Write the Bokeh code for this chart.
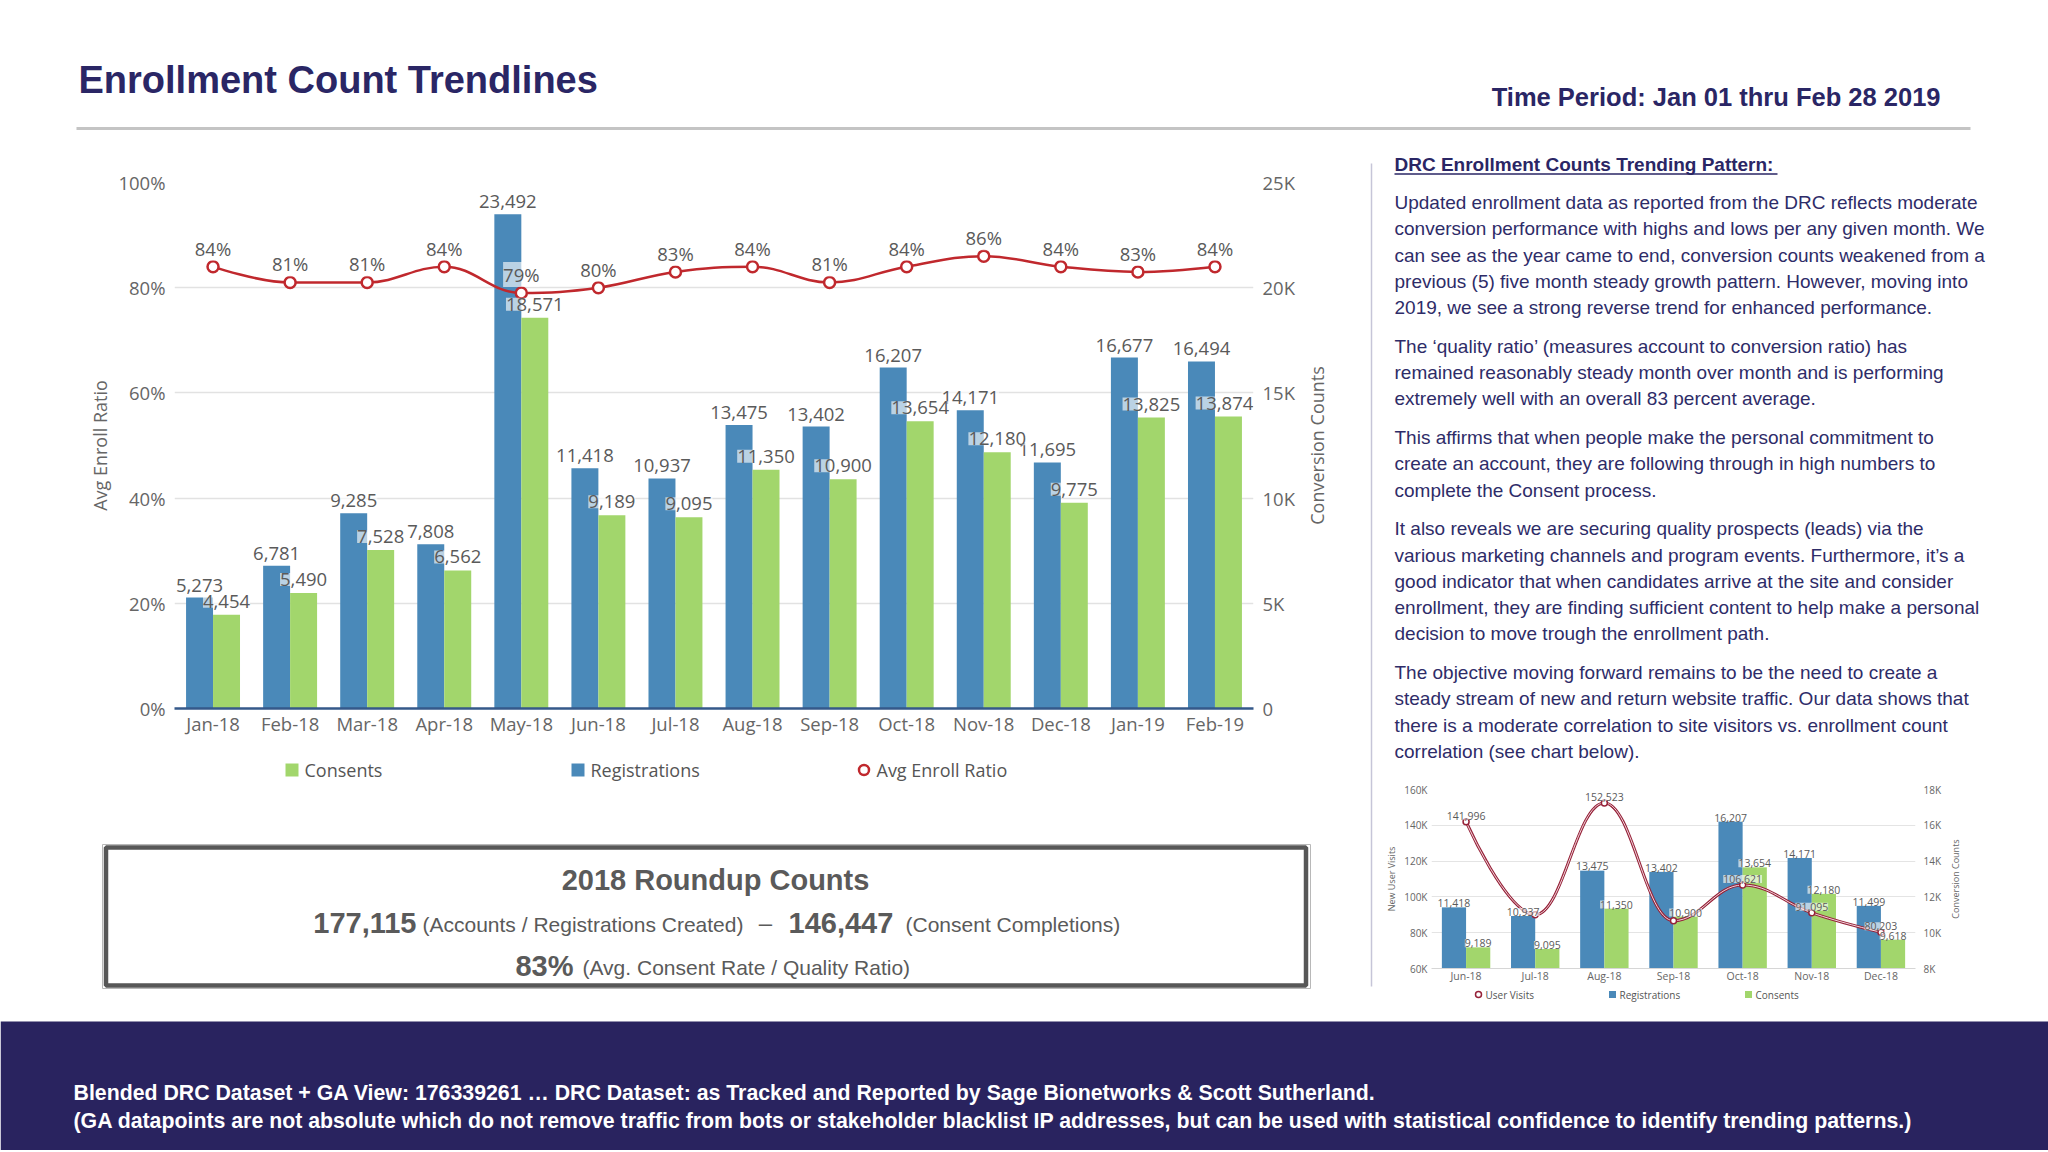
import math
from bokeh.plotting import figure
from bokeh.models import ColumnDataSource, FactorRange, Range1d, LinearAxis, FixedTicker, LabelSet
from bokeh.layouts import row, column
from bokeh.transform import dodge
from bokeh.core.properties import value
from bokeh.embed import file_html
from bokeh.resources import INLINE

# ---------------- data (main chart) ----------------
MONTHS = ["Jan-18", "Feb-18", "Mar-18", "Apr-18", "May-18", "Jun-18", "Jul-18",
          "Aug-18", "Sep-18", "Oct-18", "Nov-18", "Dec-18", "Jan-19", "Feb-19"]
REGISTRATIONS = [5273, 6781, 9285, 7808, 23492, 11418, 10937, 13475, 13402, 16207, 14171, 11695, 16677, 16494]
CONSENTS = [4454, 5490, 7528, 6562, 18571, 9189, 9095, 11350, 10900, 13654, 12180, 9775, 13825, 13874]
AVG_ENROLL_RATIO = [84, 81, 81, 84, 79, 80, 83, 84, 81, 84, 86, 84, 83, 84]
RATIO_TICKS = [0, 20, 40, 60, 80, 100]
RATIO_TICK_LABELS = ["0%", "20%", "40%", "60%", "80%", "100%"]
COUNT_TICKS = [0, 5000, 10000, 15000, 20000, 25000]
COUNT_TICK_LABELS = ["0", "5K", "10K", "15K", "20K", "25K"]

# ---------------- data (small GA chart) ----------------
GA_MONTHS = ["Jun-18", "Jul-18", "Aug-18", "Sep-18", "Oct-18", "Nov-18", "Dec-18"]
GA_USER_VISITS = [141996, 90000, 152523, 86700, 106621, 91095, 80203]
GA_VISIT_LABELS = ["141,996", "", "152,523", "", "106,621", "91,095", "80,203"]
GA_REGISTRATIONS = [11418, 10937, 13475, 13402, 16207, 14171, 11499]
GA_CONSENTS = [9189, 9095, 11350, 10900, 13654, 12180, 9618]
VISIT_TICKS = [60000, 80000, 100000, 120000, 140000, 160000]
VISIT_TICK_LABELS = ["60K", "80K", "100K", "120K", "140K", "160K"]
GA_COUNT_TICKS = [8000, 10000, 12000, 14000, 16000, 18000]
GA_COUNT_TICK_LABELS = ["8K", "10K", "12K", "14K", "16K", "18K"]

# ---------------- texts ----------------
TITLE = "Enrollment Count Trendlines"
PERIOD = "Time Period: Jan 01 thru Feb 28 2019"
SIDE_HEADING = "DRC Enrollment Counts Trending Pattern:"
SIDE_PARAGRAPHS = [
    ["Updated enrollment data as reported from the DRC reflects moderate",
     "conversion performance with highs and lows per any given month. We",
     "can see as the year came to end, conversion counts weakened from a",
     "previous (5) five month steady growth pattern. However, moving into",
     "2019, we see a strong reverse trend for enhanced performance."],
    ["The \u2018quality ratio\u2019 (measures account to conversion ratio) has",
     "remained reasonably steady month over month and is performing",
     "extremely well with an overall 83 percent average."],
    ["This affirms that when people make the personal commitment to",
     "create an account, they are following through in high numbers to",
     "complete the Consent process."],
    ["It also reveals we are securing quality prospects (leads) via the",
     "various marketing channels and program events.  Furthermore, it\u2019s a",
     "good indicator that when candidates arrive at the site and consider",
     "enrollment, they are finding sufficient content to help make a personal",
     "decision to move trough the enrollment path."],
    ["The objective moving forward remains to be the need to create a",
     "steady stream of new and return website traffic. Our data shows that",
     "there is a moderate correlation to site visitors vs. enrollment count",
     "correlation (see chart below)."],
]
ROUNDUP_TITLE = "2018 Roundup Counts"
ROUNDUP_ACCOUNTS = "177,115"
ROUNDUP_CONSENTS = "146,447"
ROUNDUP_RATE = "83%"
FOOTER_1 = "Blended DRC Dataset + GA View: 176339261 \u2026  DRC Dataset: as Tracked and Reported by Sage Bionetworks & Scott Sutherland."
FOOTER_2 = "(GA datapoints are not absolute which do not remove traffic from bots or stakeholder blacklist IP addresses, but can be used with statistical confidence to identify trending patterns.)"

# ---------------- styles ----------------
BLUE = "#4a89b9"
GREEN = "#a2d66c"
RED = "#c0282d"
MAROON = "#962239"
NAVY = "#2a2665"
TEXT_NAVY = "#2e2c68"
GRAY_TXT = "#666666"
LBL_TXT = "#5a5a5a"
CHART_FONT = "Open Sans"
PAGE_FONT = "Liberation Sans"


def spline_segments(xs, ys, smoothing=1.5):
    n = len(xs)
    den = smoothing + 1.0
    lc, rc = [], []
    for i in range(n):
        px, py = xs[i], ys[i]
        if 0 < i < n - 1:
            lx, ly = xs[i - 1], ys[i - 1]
            nx, ny = xs[i + 1], ys[i + 1]
            lcx = (smoothing * px + lx) / den
            lcy = (smoothing * py + ly) / den
            rcx = (smoothing * px + nx) / den
            rcy = (smoothing * py + ny) / den
            if rcx != lcx:
                corr = (rcy - lcy) * (rcx - px) / (rcx - lcx) + py - rcy
                lcy += corr
                rcy += corr
            if lcy > ly and lcy > py:
                lcy = max(ly, py); rcy = 2 * py - lcy
            elif lcy < ly and lcy < py:
                lcy = min(ly, py); rcy = 2 * py - lcy
            if rcy > ny and rcy > py:
                rcy = max(ny, py); lcy = 2 * py - rcy
            elif rcy < ny and rcy < py:
                rcy = min(ny, py); lcy = 2 * py - rcy
            lc.append((lcx, lcy)); rc.append((rcx, rcy))
        else:
            lc.append((px, py)); rc.append((px, py))
    seg = dict(x0=[], y0=[], x1=[], y1=[], cx0=[], cy0=[], cx1=[], cy1=[])
    for i in range(1, n):
        seg["x0"].append(xs[i - 1]); seg["y0"].append(ys[i - 1])
        seg["x1"].append(xs[i]); seg["y1"].append(ys[i])
        seg["cx0"].append(rc[i - 1][0]); seg["cy0"].append(rc[i - 1][1])
        seg["cx1"].append(lc[i][0]); seg["cy1"].append(lc[i][1])
    return seg


def canvas(x0, x1, y0, y1, inverted=True, **borders):
    w = x1 - x0 + borders.get("min_border_left", 0) + borders.get("min_border_right", 0)
    h = y1 - y0 + borders.get("min_border_top", 0) + borders.get("min_border_bottom", 0)
    yr = Range1d(y1, y0) if inverted else Range1d(y0, y1)
    kw = dict(min_border=0)
    kw.update(borders)
    p = figure(width=w, height=h, x_range=Range1d(x0, x1), y_range=yr,
               x_axis_type=None, y_axis_type=None, title=None,
               toolbar_location=None, output_backend="svg", **kw)
    p.outline_line_color = None
    p.background_fill_color = "white"
    p.border_fill_color = "white"
    return p


def put_text(p, x, y, txt, size, color, bold=False, align="left", baseline="middle",
             font=PAGE_FONT, angle=0.0):
    p.text(x=[x], y=[y], text=[txt], text_font=value(font), text_font_size=f"{size}px",
           text_font_style="bold" if bold else "normal", text_color=color,
           text_align=align, text_baseline=baseline, angle=angle)


def style_axis(ax, size, label_size=None, standoff=5):
    ax.major_label_text_font = CHART_FONT
    ax.major_label_text_font_size = f"{size}px"
    ax.major_label_text_color = GRAY_TXT
    ax.axis_label_text_font = CHART_FONT
    ax.axis_label_text_font_size = f"{label_size or size}px"
    ax.axis_label_text_font_style = "normal"
    ax.axis_label_text_color = GRAY_TXT
    ax.major_tick_line_color = None
    ax.minor_tick_line_color = None
    ax.major_tick_out = 0
    ax.major_tick_in = 0
    ax.minor_tick_out = 0
    ax.minor_tick_in = 0
    ax.major_label_standoff = standoff


# ================= header =================
header = canvas(0, 2048, 0, 150)
put_text(header, 78, 79, TITLE, 38, NAVY, bold=True)
put_text(header, 1940, 96.5, PERIOD, 25.5, NAVY, bold=True, align="right")
header.segment(x0=[76], y0=[128], x1=[1970], y1=[128], line_color="#c4c4c4", line_width=3)

# ================= main chart =================
n_months = len(MONTHS)
src = ColumnDataSource(dict(
    month=MONTHS, reg=REGISTRATIONS, con=CONSENTS, ratio=AVG_ENROLL_RATIO,
    reg_lbl=[f"{v:,}" for v in REGISTRATIONS],
    con_lbl=[f"{v:,}" for v in CONSENTS],
    ratio_lbl=[f"{v}%" for v in AVG_ENROLL_RATIO],
    # keep the last consent label inside the plot frame (it would be clipped otherwise)
    con_dx=[0] * (n_months - 1) + [-4],
))

main = figure(width=1300, height=600, x_range=FactorRange(factors=MONTHS),
              y_range=Range1d(RATIO_TICKS[0], RATIO_TICKS[-1]), title=None,
              min_border_left=174, min_border_right=47, min_border_top=32, min_border_bottom=42,
              toolbar_location=None, output_backend="svg")
main.extra_y_ranges = {"counts": Range1d(COUNT_TICKS[0], COUNT_TICKS[-1])}
main.outline_line_color = None
main.background_fill_color = "white"
main.border_fill_color = "white"
main.xgrid.visible = False
main.ygrid.ticker = FixedTicker(ticks=RATIO_TICKS)
main.ygrid.grid_line_color = "#e2e2e2"
main.ygrid.grid_line_width = 1.5

left_ax = main.yaxis[0]
left_ax.ticker = FixedTicker(ticks=RATIO_TICKS)
left_ax.major_label_overrides = dict(zip(RATIO_TICKS, RATIO_TICK_LABELS))
left_ax.axis_label = "Avg Enroll Ratio"
left_ax.axis_line_color = None
style_axis(left_ax, 18.5, 18, standoff=9)
left_ax.axis_label_standoff = 3

right_ax = LinearAxis(y_range_name="counts", ticker=FixedTicker(ticks=COUNT_TICKS),
                      major_label_overrides=dict(zip(COUNT_TICKS, COUNT_TICK_LABELS)))
right_ax.axis_line_color = None
style_axis(right_ax, 18.5, 18, standoff=9)
main.add_layout(right_ax, "right")

xax = main.xaxis[0]
style_axis(xax, 18.5, standoff=2)
xax.axis_line_color = "#35598a"
xax.axis_line_width = 2.5

main.vbar(x=dodge("month", -0.175, range=main.x_range), top="reg", width=0.35, source=src,
          y_range_name="counts", fill_color=BLUE, line_color=None)
main.vbar(x=dodge("month", 0.175, range=main.x_range), top="con", width=0.35, source=src,
          y_range_name="counts", fill_color=GREEN, line_color=None)

seg = spline_segments([i + 0.5 for i in range(n_months)], AVG_ENROLL_RATIO)
main.bezier(x0="x0", y0="y0", x1="x1", y1="y1", cx0="cx0", cy0="cy0", cx1="cx1", cy1="cy1",
            source=ColumnDataSource(seg), line_color=RED, line_width=2.5)
main.scatter(x="month", y="ratio", source=src, marker="circle", size=11,
             fill_color="white", line_color=RED, line_width=2.5)

lbl_common = dict(source=src, text_font=value(CHART_FONT), text_font_size="18.5px",
                  text_color=LBL_TXT, text_align="center", text_baseline="bottom",
                  background_fill_color="white", background_fill_alpha=0.62)
main.add_layout(LabelSet(x=dodge("month", -0.175, range=main.x_range), y="reg", text="reg_lbl",
                         y_range_name="counts", y_offset=6, **lbl_common))
main.add_layout(LabelSet(x=dodge("month", 0.175, range=main.x_range), y="con", text="con_lbl",
                         y_range_name="counts", y_offset=7, x_offset="con_dx", **lbl_common))
main.add_layout(LabelSet(x="month", y="ratio", text="ratio_lbl", y_offset=6, **lbl_common))

# right axis title of the main chart (reads bottom-to-top)
main_rlabel = canvas(1300, 1345, 182, 708, inverted=False, min_border_top=32, min_border_bottom=42)
put_text(main_rlabel, 1316, 445, "Conversion Counts", 18, GRAY_TXT, align="center",
         font=CHART_FONT, angle=math.pi / 2)

# ================= bottom-left: legend + roundup box =================
bl = canvas(0, 1345, 750, 1010)
bl.scatter(x=[291.5], y=[769.5], marker="square", size=13, fill_color=GREEN, line_color=None)
put_text(bl, 304, 769.5, "Consents", 18, "#555555", font=CHART_FONT)
bl.scatter(x=[577.5], y=[769.5], marker="square", size=13, fill_color=BLUE, line_color=None)
put_text(bl, 590, 769.5, "Registrations", 18, "#555555", font=CHART_FONT)
bl.scatter(x=[863.5], y=[769.5], marker="circle", size=10, fill_color="white", line_color=RED, line_width=2.5)
put_text(bl, 876, 769.5, "Avg Enroll Ratio", 18, "#555555", font=CHART_FONT)

bl.quad(left=[102], right=[1310], top=[844], bottom=[988], fill_color="white",
        line_color="#b8b8b8", line_width=1)
bl.quad(left=[105.5], right=[1305.5], top=[847], bottom=[985], fill_color=None,
        line_color="#575757", line_width=4.5)
BOX_GRAY = "#5a5a5a"
put_text(bl, 715, 879, ROUNDUP_TITLE, 29, BOX_GRAY, bold=True, align="center")
put_text(bl, 416, 922, ROUNDUP_ACCOUNTS, 29, BOX_GRAY, bold=True, align="right")
put_text(bl, 422, 924, "(Accounts / Registrations Created)", 21, BOX_GRAY)
put_text(bl, 765, 922, "\u2013", 24, BOX_GRAY, align="center")
put_text(bl, 788, 922, ROUNDUP_CONSENTS, 29, BOX_GRAY, bold=True)
put_text(bl, 905, 924, "(Consent Completions)", 21, BOX_GRAY)
put_text(bl, 573, 965, ROUNDUP_RATE, 29, BOX_GRAY, bold=True, align="right")
put_text(bl, 582, 967, "(Avg. Consent Rate / Quality Ratio)", 21, BOX_GRAY)

left_col = column(row(main, main_rlabel, spacing=0), row(bl, spacing=0), spacing=0)

# ================= separator =================
sep = canvas(1345, 1378, 150, 1010)
sep.segment(x0=[1371], y0=[163], x1=[1371], y1=[986], line_color="#c6c5d8", line_width=1.5)

# ================= right text =================
tf = canvas(1378, 2048, 150, 780)
put_text(tf, 1394, 164, SIDE_HEADING, 19, NAVY, bold=True)
tf.segment(x0=[1394], y0=[173.5], x1=[1777], y1=[173.5], line_color=NAVY, line_width=1.6)
k = 0
for j, para in enumerate(SIDE_PARAGRAPHS):
    for line in para:
        put_text(tf, 1394, 202 + k * 26.3 + j * 12.3, line, 19, TEXT_NAVY)
        k += 1

# ================= small GA chart =================
gsrc = ColumnDataSource(dict(
    month=GA_MONTHS, visits=GA_USER_VISITS, visit_lbl=GA_VISIT_LABELS,
    reg=GA_REGISTRATIONS, con=GA_CONSENTS,
    reg_lbl=[f"{v:,}" for v in GA_REGISTRATIONS],
    con_lbl=[f"{v:,}" for v in GA_CONSENTS],
))
ga = figure(width=567, height=205, x_range=FactorRange(factors=GA_MONTHS),
            y_range=Range1d(VISIT_TICKS[0], VISIT_TICKS[-1]), title=None,
            min_border_left=53, min_border_right=30, min_border_top=9, min_border_bottom=16,
            toolbar_location=None, output_backend="svg")
ga.extra_y_ranges = {"counts": Range1d(GA_COUNT_TICKS[0], GA_COUNT_TICKS[-1])}
ga.outline_line_color = None
ga.background_fill_color = "white"
ga.border_fill_color = "white"
ga.xgrid.visible = False
ga.ygrid.ticker = FixedTicker(ticks=VISIT_TICKS)
ga.ygrid.grid_line_color = "#e4e4e4"

g_left = ga.yaxis[0]
g_left.ticker = FixedTicker(ticks=VISIT_TICKS)
g_left.major_label_overrides = dict(zip(VISIT_TICKS, VISIT_TICK_LABELS))
g_left.axis_label = "New User Visits"
g_left.axis_line_color = None
style_axis(g_left, 10, 9, standoff=4)
g_left.axis_label_standoff = 3

g_right = LinearAxis(y_range_name="counts", ticker=FixedTicker(ticks=GA_COUNT_TICKS),
                     major_label_overrides=dict(zip(GA_COUNT_TICKS, GA_COUNT_TICK_LABELS)))
g_right.axis_line_color = None
style_axis(g_right, 10, 9, standoff=8)
ga.add_layout(g_right, "right")

gx = ga.xaxis[0]
style_axis(gx, 10.5, standoff=0)
gx.axis_line_color = "#d6d6d6"

ga.vbar(x=dodge("month", -0.175, range=ga.x_range), top="reg", bottom=GA_COUNT_TICKS[0], width=0.35,
        source=gsrc, y_range_name="counts", fill_color=BLUE, line_color=None)
ga.vbar(x=dodge("month", 0.175, range=ga.x_range), top="con", bottom=GA_COUNT_TICKS[0], width=0.35,
        source=gsrc, y_range_name="counts", fill_color=GREEN, line_color=None)
gseg = ColumnDataSource(spline_segments([i + 0.5 for i in range(len(GA_MONTHS))], GA_USER_VISITS))
ga.bezier(x0="x0", y0="y0", x1="x1", y1="y1", cx0="cx0", cy0="cy0", cx1="cx1", cy1="cy1",
          source=gseg, line_color=MAROON, line_width=3)
ga.bezier(x0="x0", y0="y0", x1="x1", y1="y1", cx0="cx0", cy0="cy0", cx1="cx1", cy1="cy1",
          source=gseg, line_color="#f2d6dc", line_width=1)
ga.scatter(x="month", y="visits", source=gsrc, marker="circle", size=6,
           fill_color="white", line_color=MAROON, line_width=1.5)

g_lbl = dict(source=gsrc, text_font=value(CHART_FONT), text_font_size="10.5px",
             text_color=LBL_TXT, text_align="center", text_baseline="bottom",
             background_fill_color="white", background_fill_alpha=0.62)
ga.add_layout(LabelSet(x=dodge("month", -0.175, range=ga.x_range), y="reg", text="reg_lbl",
                       y_range_name="counts", y_offset=0, **g_lbl))
ga.add_layout(LabelSet(x=dodge("month", 0.175, range=ga.x_range), y="con", text="con_lbl",
                       y_range_name="counts", y_offset=0, **g_lbl))
ga.add_layout(LabelSet(x="month", y="visits", text="visit_lbl", y_offset=2, **g_lbl))

ga_rlabel = canvas(1945, 2048, 789, 969, inverted=False, min_border_top=9, min_border_bottom=16)
put_text(ga_rlabel, 1955, 879, "Conversion Counts", 9, GRAY_TXT, align="center",
         font=CHART_FONT, angle=math.pi / 2)

gl = canvas(1378, 2048, 985, 1010)
gl.scatter(x=[1478], y=[994], marker="circle", size=6, fill_color="white", line_color=MAROON, line_width=1.5)
put_text(gl, 1485, 994, "User Visits", 10, "#555555", font=CHART_FONT)
gl.scatter(x=[1612], y=[994], marker="square", size=7, fill_color=BLUE, line_color=None)
put_text(gl, 1619, 994, "Registrations", 10, "#555555", font=CHART_FONT)
gl.scatter(x=[1748], y=[994], marker="square", size=7, fill_color=GREEN, line_color=None)
put_text(gl, 1755, 994, "Consents", 10, "#555555", font=CHART_FONT)

right_col = column(row(tf, spacing=0), row(ga, ga_rlabel, spacing=0), row(gl, spacing=0), spacing=0)

middle = row(left_col, sep, right_col, spacing=0)

# ================= footer =================
footer = canvas(0, 2048, 1010, 1150)
footer.quad(left=[0], right=[2048], top=[1021], bottom=[1150], fill_color="#29235f", line_color=None)
put_text(footer, 73, 1092.5, FOOTER_1, 21.3, "white", bold=True)
put_text(footer, 73, 1120.5, FOOTER_2, 21.3, "white", bold=True)

page = column(header, middle, footer, spacing=0)

open("out.html", "w").write(file_html(page, INLINE, title="Enrollment Count Trendlines"))
